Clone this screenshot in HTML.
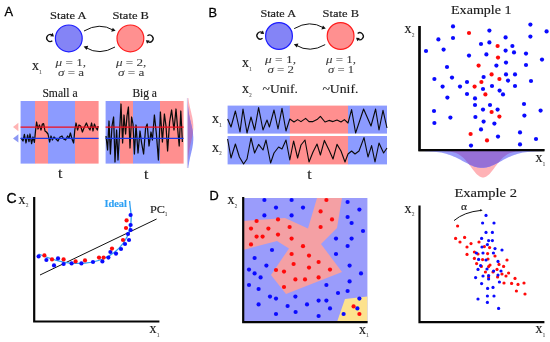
<!DOCTYPE html>
<html><head><meta charset="utf-8"><title>Figure</title>
<style>html,body{margin:0;padding:0;background:#fff}svg{display:block}</style></head>
<body><svg width="550" height="342" viewBox="0 0 550 342">
<rect width="550" height="342" fill="#fff"/>
<text x="4.4" y="16.4" font-size="12.8" font-family="Liberation Sans, sans-serif" fill="#000" stroke="#000" stroke-width="0.3" >A</text>
<text x="208.6" y="16.8" font-size="12.8" font-family="Liberation Sans, sans-serif" fill="#000" stroke="#000" stroke-width="0.3" >B</text>
<text x="6.6" y="203" font-size="14" font-family="Liberation Sans, sans-serif" fill="#000" stroke="#000" stroke-width="0.3" >C</text>
<text x="209.4" y="200" font-size="12.8" font-family="Liberation Sans, sans-serif" fill="#000" stroke="#000" stroke-width="0.3" >D</text>
<circle cx="68.8" cy="38.4" r="13.4" fill="#8484f6" stroke="#1c1cff" stroke-width="1.2"/>
<circle cx="130.4" cy="38.4" r="13.4" fill="#ff9090" stroke="#ff1c1c" stroke-width="1.2"/>
<text x="50" y="19.4" font-size="10" font-family="Liberation Serif, serif" fill="#1a1a1a" stroke="#1a1a1a" stroke-width="0.15" textLength="36.4" lengthAdjust="spacingAndGlyphs" >State A</text>
<text x="112.4" y="19.4" font-size="10" font-family="Liberation Serif, serif" fill="#1a1a1a" stroke="#1a1a1a" stroke-width="0.15" textLength="36.6" lengthAdjust="spacingAndGlyphs" >State B</text>
<path d="M84.0,31.0 Q99.6,21.9 113.4,30.2" fill="none" stroke="#111" stroke-width="1"/>
<polygon points="115.60000000000001,30.799999999999997 111.2,31.799999999999997 112.80000000000001,27.799999999999997" fill="#111"/>
<path d="M115.0,47.0 Q99.6,55.9 85.8,47.599999999999994" fill="none" stroke="#111" stroke-width="1"/>
<polygon points="83.6,46.599999999999994 88.2,45.8 86.6,50.0" fill="#111"/>
<path d="M52.35,35.24 A3.5,3.5 0 1 0 52.35,40.76" fill="none" stroke="#111" stroke-width="1.3"/>
<polygon points="53.93,36.47 50.12,36.16 52.70,32.85" fill="#111"/>
<path d="M147.45,41.36 A3.5,3.5 0 1 0 147.45,35.84" fill="none" stroke="#111" stroke-width="1.3"/>
<polygon points="145.87,40.13 149.68,40.44 147.10,43.75" fill="#111"/>
<circle cx="279" cy="36" r="13.4" fill="#8484f6" stroke="#1c1cff" stroke-width="1.2"/>
<circle cx="340.6" cy="36" r="13.4" fill="#ff9090" stroke="#ff1c1c" stroke-width="1.2"/>
<text x="260.4" y="17" font-size="10" font-family="Liberation Serif, serif" fill="#1a1a1a" stroke="#1a1a1a" stroke-width="0.15" textLength="35.6" lengthAdjust="spacingAndGlyphs" >State A</text>
<text x="322.6" y="17" font-size="10" font-family="Liberation Serif, serif" fill="#1a1a1a" stroke="#1a1a1a" stroke-width="0.15" textLength="36.4" lengthAdjust="spacingAndGlyphs" >State B</text>
<path d="M294.2,28.6 Q309.8,19.5 323.6,27.8" fill="none" stroke="#111" stroke-width="1"/>
<polygon points="325.8,28.4 321.40000000000003,29.4 323.0,25.4" fill="#111"/>
<path d="M325.20000000000005,44.6 Q309.8,53.5 296,45.2" fill="none" stroke="#111" stroke-width="1"/>
<polygon points="293.8,44.2 298.4,43.4 296.8,47.6" fill="#111"/>
<path d="M262.55,32.84 A3.5,3.5 0 1 0 262.55,38.36" fill="none" stroke="#111" stroke-width="1.3"/>
<polygon points="264.13,34.07 260.32,33.76 262.90,30.45" fill="#111"/>
<path d="M357.65,38.96 A3.5,3.5 0 1 0 357.65,33.44" fill="none" stroke="#111" stroke-width="1.3"/>
<polygon points="356.07,37.73 359.88,38.04 357.30,41.35" fill="#111"/>
<text x="55.6" y="65.6" font-size="10.5" font-family="Liberation Serif, serif" fill="#3a3a3a" stroke="#3a3a3a" stroke-width="0.08" textLength="30.4" lengthAdjust="spacingAndGlyphs" ><tspan font-style="italic">μ</tspan> = 1,</text>
<text x="58" y="75.6" font-size="10.5" font-family="Liberation Serif, serif" fill="#3a3a3a" stroke="#3a3a3a" stroke-width="0.08" textLength="26" lengthAdjust="spacingAndGlyphs" ><tspan font-style="italic">σ</tspan> = a</text>
<text x="116" y="65.6" font-size="10.5" font-family="Liberation Serif, serif" fill="#3a3a3a" stroke="#3a3a3a" stroke-width="0.08" textLength="30.4" lengthAdjust="spacingAndGlyphs" ><tspan font-style="italic">μ</tspan> = 2,</text>
<text x="118" y="75.6" font-size="10.5" font-family="Liberation Serif, serif" fill="#3a3a3a" stroke="#3a3a3a" stroke-width="0.08" textLength="26.4" lengthAdjust="spacingAndGlyphs" ><tspan font-style="italic">σ</tspan> = a</text>
<text x="265" y="63" font-size="10.5" font-family="Liberation Serif, serif" fill="#3a3a3a" stroke="#3a3a3a" stroke-width="0.08" textLength="31" lengthAdjust="spacingAndGlyphs" ><tspan font-style="italic">μ</tspan> = 1,</text>
<text x="267.4" y="73" font-size="10.5" font-family="Liberation Serif, serif" fill="#3a3a3a" stroke="#3a3a3a" stroke-width="0.08" textLength="26.6" lengthAdjust="spacingAndGlyphs" ><tspan font-style="italic">σ</tspan> = 2</text>
<text x="326" y="63" font-size="10.5" font-family="Liberation Serif, serif" fill="#3a3a3a" stroke="#3a3a3a" stroke-width="0.08" textLength="30" lengthAdjust="spacingAndGlyphs" ><tspan font-style="italic">μ</tspan> = 1,</text>
<text x="328" y="73" font-size="10.5" font-family="Liberation Serif, serif" fill="#3a3a3a" stroke="#3a3a3a" stroke-width="0.08" textLength="26" lengthAdjust="spacingAndGlyphs" ><tspan font-style="italic">σ</tspan> = 1</text>
<text x="32" y="70" font-size="14.280000000000001" font-family="Liberation Serif, serif" fill="#1a1a1a" stroke="#1a1a1a" stroke-width="0.15" textLength="7" lengthAdjust="spacingAndGlyphs" >x</text>
<text x="39.3" y="73.6" font-size="5.5" font-family="Liberation Serif, serif" fill="#555" stroke="#555" stroke-width="0.15" textLength="2.4" lengthAdjust="spacingAndGlyphs" >1</text>
<text x="242" y="67" font-size="14.280000000000001" font-family="Liberation Serif, serif" fill="#1a1a1a" stroke="#1a1a1a" stroke-width="0.15" textLength="7" lengthAdjust="spacingAndGlyphs" >x</text>
<text x="249.3" y="70.6" font-size="5.5" font-family="Liberation Serif, serif" fill="#555" stroke="#555" stroke-width="0.15" textLength="2.4" lengthAdjust="spacingAndGlyphs" >1</text>
<text x="242" y="93" font-size="14.280000000000001" font-family="Liberation Serif, serif" fill="#1a1a1a" stroke="#1a1a1a" stroke-width="0.15" textLength="7" lengthAdjust="spacingAndGlyphs" >x</text>
<text x="249.3" y="96.6" font-size="5.5" font-family="Liberation Serif, serif" fill="#555" stroke="#555" stroke-width="0.15" textLength="2.4" lengthAdjust="spacingAndGlyphs" >2</text>
<text x="262.6" y="93" font-size="13.5" font-family="Liberation Serif, serif" fill="#1a1a1a" stroke="#1a1a1a" stroke-width="0.15" textLength="35.4" lengthAdjust="spacingAndGlyphs" >~Unif.</text>
<text x="322.4" y="93" font-size="13.5" font-family="Liberation Serif, serif" fill="#1a1a1a" stroke="#1a1a1a" stroke-width="0.15" textLength="36" lengthAdjust="spacingAndGlyphs" >~Unif.</text>
<text x="42.4" y="97" font-size="11.5" font-family="Liberation Serif, serif" fill="#1a1a1a" stroke="#1a1a1a" stroke-width="0.15" textLength="35.2" lengthAdjust="spacingAndGlyphs" >Small a</text>
<text x="132.4" y="97" font-size="11.5" font-family="Liberation Serif, serif" fill="#1a1a1a" stroke="#1a1a1a" stroke-width="0.15" textLength="24.6" lengthAdjust="spacingAndGlyphs" >Big a</text>
<rect x="20.6" y="101" width="14.6" height="62.6" fill="#8c9bff"/>
<rect x="35" y="101" width="13.2" height="62.6" fill="#ff8f8f"/>
<rect x="48" y="101" width="27.2" height="62.6" fill="#8c9bff"/>
<rect x="75" y="101" width="23.6" height="62.6" fill="#ff8f8f"/>
<rect x="105.6" y="101" width="14.6" height="62.6" fill="#8c9bff"/>
<rect x="120" y="101" width="13.2" height="62.6" fill="#ff8f8f"/>
<rect x="133" y="101" width="27.2" height="62.6" fill="#8c9bff"/>
<rect x="160" y="101" width="23.6" height="62.6" fill="#ff8f8f"/>
<polygon points="13,127 18.4,122.8 18.4,131.2" fill="#ffb4b4"/>
<polygon points="13,138.4 18.4,134.2 18.4,142.6" fill="#8c98f4"/>
<polyline points="21.0,138.0 23.0,141.0 24.4,134.4 26.0,143.0 27.6,135.0 29.0,141.6 30.0,134.0 31.6,143.6 33.0,137.0 34.4,142.4 35.6,130.0 36.6,122.0 38.0,129.0 39.4,125.0 41.0,130.0 42.4,124.0 43.6,123.6 45.0,131.0 46.4,132.0 48.0,134.0 49.6,142.0 51.0,136.0 52.4,140.0 54.0,137.0 56.0,139.0 58.0,141.0 60.0,137.0 62.0,136.0 63.6,139.0 65.6,140.0 67.6,136.0 69.0,138.0 70.4,133.0 72.0,139.0 73.6,143.0 74.8,130.0 76.0,123.0 77.6,130.0 79.0,125.0 80.6,126.0 82.4,132.0 84.0,128.0 86.4,123.0 88.0,127.0 90.0,130.0 91.6,123.0 93.0,131.0 94.4,124.0 96.0,128.0 97.4,130.0 98.0,126.0" fill="none" stroke="#0a0a0a" stroke-width="1.25" stroke-linejoin="round"/>
<polyline points="106.0,136.0 107.6,150.0 109.0,121.0 110.4,154.0 112.0,126.0 113.6,117.0 115.0,162.0 116.6,130.0 118.0,160.0 119.4,136.0 121.0,104.0 122.6,143.0 124.0,115.0 125.6,134.0 127.0,116.0 128.4,107.0 130.0,148.0 131.6,117.0 133.0,124.0 134.4,154.0 136.0,125.0 138.0,153.0 140.0,131.0 141.6,143.0 143.6,154.0 145.6,128.0 147.2,124.0 149.0,146.0 151.0,132.0 152.4,140.0 154.4,115.0 156.4,134.0 158.4,160.0 160.4,112.0 162.4,142.0 164.4,114.0 166.0,126.0 167.6,151.0 169.6,122.0 171.6,110.0 174.0,130.0 176.0,109.0 177.6,128.0 179.2,146.0 180.8,111.0 182.4,142.0" fill="none" stroke="#0a0a0a" stroke-width="1.25" stroke-linejoin="round"/>
<line x1="20.6" x2="98.6" y1="127.1" y2="127.1" stroke="#f00c1c" stroke-width="1.3"/>
<line x1="20.6" x2="98.6" y1="138.3" y2="138.3" stroke="#1838ea" stroke-width="1.3"/>
<line x1="105.6" x2="183.6" y1="127.1" y2="127.1" stroke="#f00c1c" stroke-width="1.3"/>
<line x1="105.6" x2="183.6" y1="138.3" y2="138.3" stroke="#1838ea" stroke-width="1.3"/>
<text x="58" y="178.4" font-size="14" font-family="Liberation Serif, serif" fill="#1a1a1a" stroke="#1a1a1a" stroke-width="0.15" textLength="4.4" lengthAdjust="spacingAndGlyphs" >t</text>
<text x="144" y="178.6" font-size="14" font-family="Liberation Serif, serif" fill="#1a1a1a" stroke="#1a1a1a" stroke-width="0.15" textLength="4.4" lengthAdjust="spacingAndGlyphs" >t</text>
<polygon points="187.3,98.0 188.3,98.0 188.5,99.0 188.6,100.0 188.8,101.0 188.9,102.0 189.1,103.0 189.3,104.0 189.5,105.0 189.7,106.0 189.9,107.0 190.1,108.0 190.4,109.0 190.6,110.0 190.8,111.0 191.1,112.0 191.3,113.0 191.5,114.0 191.7,115.0 192.0,116.0 192.2,117.0 192.4,118.0 192.6,119.0 192.7,120.0 192.9,121.0 193.0,122.0 193.1,123.0 193.2,124.0 193.3,125.0 193.3,126.0 193.3,127.0 193.3,128.0 193.3,129.0 193.2,130.0 193.1,131.0 193.0,132.0 192.9,133.0 192.7,134.0 192.6,135.0 192.4,136.0 192.2,137.0 192.0,138.0 191.7,139.0 191.5,140.0 191.3,141.0 191.1,142.0 190.8,143.0 190.6,144.0 190.4,145.0 190.1,146.0 189.9,147.0 189.7,148.0 189.5,149.0 189.3,150.0 189.1,151.0 188.9,152.0 188.8,153.0 188.6,154.0 188.5,155.0 188.3,156.0 188.2,157.0 188.1,158.0 188.0,159.0 187.9,160.0 187.8,161.0 187.8,162.0 187.7,163.0 187.6,164.0 187.6,165.0 187.6,166.0 187.5,167.0 187.5,168.0 187.3,168.0" fill="#ffb0b8"/>
<polygon points="187.3,98.0 187.5,98.0 187.5,99.0 187.6,100.0 187.6,101.0 187.7,102.0 187.7,103.0 187.8,104.0 187.9,105.0 188.0,106.0 188.1,107.0 188.2,108.0 188.3,109.0 188.4,110.0 188.5,111.0 188.7,112.0 188.9,113.0 189.0,114.0 189.2,115.0 189.4,116.0 189.6,117.0 189.8,118.0 190.0,119.0 190.2,120.0 190.5,121.0 190.7,122.0 190.9,123.0 191.2,124.0 191.4,125.0 191.6,126.0 191.9,127.0 192.1,128.0 192.3,129.0 192.5,130.0 192.6,131.0 192.8,132.0 192.9,133.0 193.1,134.0 193.1,135.0 193.2,136.0 193.3,137.0 193.3,138.0 193.3,139.0 193.3,140.0 193.2,141.0 193.1,142.0 193.1,143.0 192.9,144.0 192.8,145.0 192.6,146.0 192.5,147.0 192.3,148.0 192.1,149.0 191.9,150.0 191.6,151.0 191.4,152.0 191.2,153.0 190.9,154.0 190.7,155.0 190.5,156.0 190.2,157.0 190.0,158.0 189.8,159.0 189.6,160.0 189.4,161.0 189.2,162.0 189.0,163.0 188.9,164.0 188.7,165.0 188.5,166.0 188.4,167.0 188.3,168.0 187.3,168.0" fill="#8c96fa"/>
<polygon points="187.3,98.0 187.5,98.0 187.5,99.0 187.6,100.0 187.6,101.0 187.7,102.0 187.7,103.0 187.8,104.0 187.9,105.0 188.0,106.0 188.1,107.0 188.2,108.0 188.3,109.0 188.4,110.0 188.5,111.0 188.7,112.0 188.9,113.0 189.0,114.0 189.2,115.0 189.4,116.0 189.6,117.0 189.8,118.0 190.0,119.0 190.2,120.0 190.5,121.0 190.7,122.0 190.9,123.0 191.2,124.0 191.4,125.0 191.6,126.0 191.9,127.0 192.1,128.0 192.3,129.0 192.5,130.0 192.6,131.0 192.8,132.0 192.9,133.0 192.7,134.0 192.6,135.0 192.4,136.0 192.2,137.0 192.0,138.0 191.7,139.0 191.5,140.0 191.3,141.0 191.1,142.0 190.8,143.0 190.6,144.0 190.4,145.0 190.1,146.0 189.9,147.0 189.7,148.0 189.5,149.0 189.3,150.0 189.1,151.0 188.9,152.0 188.8,153.0 188.6,154.0 188.5,155.0 188.3,156.0 188.2,157.0 188.1,158.0 188.0,159.0 187.9,160.0 187.8,161.0 187.8,162.0 187.7,163.0 187.6,164.0 187.6,165.0 187.6,166.0 187.5,167.0 187.5,168.0 187.3,168.0" fill="#a673c9"/>
<line x1="187.2" x2="187.2" y1="98" y2="168" stroke="#ece8f2" stroke-width="0.8"/>
<rect x="227.6" y="105.6" width="62.4" height="28.0" fill="#8c9bff"/>
<rect x="289.8" y="105.6" width="58.4" height="28.0" fill="#ff8f8f"/>
<rect x="348" y="105.6" width="39.0" height="28.0" fill="#8c9bff"/>
<rect x="227.6" y="136" width="62.4" height="28.4" fill="#8c9bff"/>
<rect x="289.8" y="136" width="58.4" height="28.4" fill="#ff8f8f"/>
<rect x="348" y="136" width="39.0" height="28.4" fill="#8c9bff"/>
<text x="212" y="123" font-size="14.280000000000001" font-family="Liberation Serif, serif" fill="#1a1a1a" stroke="#1a1a1a" stroke-width="0.15" textLength="7" lengthAdjust="spacingAndGlyphs" >x</text>
<text x="219.3" y="126.6" font-size="5.5" font-family="Liberation Serif, serif" fill="#555" stroke="#555" stroke-width="0.15" textLength="2.4" lengthAdjust="spacingAndGlyphs" >1</text>
<text x="212" y="151.6" font-size="14.280000000000001" font-family="Liberation Serif, serif" fill="#1a1a1a" stroke="#1a1a1a" stroke-width="0.15" textLength="7" lengthAdjust="spacingAndGlyphs" >x</text>
<text x="219.3" y="155.2" font-size="5.5" font-family="Liberation Serif, serif" fill="#555" stroke="#555" stroke-width="0.15" textLength="2.4" lengthAdjust="spacingAndGlyphs" >2</text>
<polyline points="227.6,119.0 231.0,127.0 235.4,111.0 240.0,132.0 243.0,109.0 247.0,133.0 251.0,117.0 254.6,130.0 258.6,107.6 263.0,130.0 267.0,120.0 269.4,127.0 274.0,110.0 278.0,129.0 282.0,108.4 286.0,131.0 289.8,119.0 294.0,122.0 297.6,119.6 301.0,121.6 305.6,118.4 309.0,121.6 313.0,121.6 317.0,119.6 320.4,116.4 325.0,122.0 329.0,120.4 333.0,121.6 337.0,120.0 341.0,122.0 344.4,119.6 348.0,123.0 351.6,109.6 355.6,133.0 363.6,109.0 371.0,126.0 375.6,109.0 379.0,130.0 383.0,110.4 387.0,128.0" fill="none" stroke="#0a0a0a" stroke-width="1.1" stroke-linejoin="round"/>
<polyline points="227.6,139.0 231.0,158.0 235.4,144.0 239.4,157.0 243.6,164.0 247.0,159.0 251.0,138.0 254.6,153.0 258.6,144.4 263.0,150.0 266.0,140.0 270.6,163.0 274.0,153.0 278.6,147.0 282.0,149.0 286.0,140.0 289.8,160.0 293.6,141.0 297.6,158.0 301.0,145.0 305.0,140.0 309.0,162.0 313.0,152.0 317.0,144.0 320.4,155.0 324.4,140.4 329.0,150.0 333.0,159.0 337.0,144.4 341.0,151.0 345.0,162.0 348.0,154.0 351.6,151.0 355.0,154.0 359.0,151.0 364.0,137.6 368.0,157.0 371.6,145.6 375.0,162.0 379.0,143.0 383.6,153.0 387.0,148.0" fill="none" stroke="#0a0a0a" stroke-width="1.1" stroke-linejoin="round"/>
<text x="307.2" y="178.8" font-size="14" font-family="Liberation Serif, serif" fill="#1a1a1a" stroke="#1a1a1a" stroke-width="0.15" textLength="4.4" lengthAdjust="spacingAndGlyphs" >t</text>
<text x="451" y="13.6" font-size="12.5" font-family="Liberation Serif, serif" fill="#1a1a1a" stroke="#1a1a1a" stroke-width="0.15" textLength="60.6" lengthAdjust="spacingAndGlyphs" >Example 1</text>
<text x="404.6" y="33" font-size="14.280000000000001" font-family="Liberation Serif, serif" fill="#1a1a1a" stroke="#1a1a1a" stroke-width="0.15" textLength="7" lengthAdjust="spacingAndGlyphs" >x</text>
<text x="411.90000000000003" y="36.6" font-size="5.5" font-family="Liberation Serif, serif" fill="#555" stroke="#555" stroke-width="0.15" textLength="2.4" lengthAdjust="spacingAndGlyphs" >2</text>
<path d="M419.5,26 V150.2 H544.4" fill="none" stroke="#050505" stroke-width="2.2"/>
<circle cx="453" cy="26.4" r="2.1" fill="#0a0aff"/>
<circle cx="489.4" cy="30.6" r="2.1" fill="#0a0aff"/>
<circle cx="438.4" cy="39.4" r="2.1" fill="#0a0aff"/>
<circle cx="453" cy="38" r="2.1" fill="#0a0aff"/>
<circle cx="505.6" cy="37.4" r="2.1" fill="#0a0aff"/>
<circle cx="481" cy="44" r="2.1" fill="#0a0aff"/>
<circle cx="489.4" cy="42.4" r="2.1" fill="#0a0aff"/>
<circle cx="426" cy="51" r="2.1" fill="#0a0aff"/>
<circle cx="443.6" cy="49.6" r="2.1" fill="#0a0aff"/>
<circle cx="505.6" cy="50.6" r="2.1" fill="#0a0aff"/>
<circle cx="469" cy="55.6" r="2.1" fill="#0a0aff"/>
<circle cx="486.4" cy="54.4" r="2.1" fill="#0a0aff"/>
<circle cx="447" cy="67" r="2.1" fill="#0a0aff"/>
<circle cx="496.4" cy="65.6" r="2.1" fill="#0a0aff"/>
<circle cx="506" cy="62.6" r="2.1" fill="#0a0aff"/>
<circle cx="530.4" cy="24.6" r="2.1" fill="#0a0aff"/>
<circle cx="546.6" cy="31.4" r="2.1" fill="#0a0aff"/>
<circle cx="530.4" cy="36.6" r="2.1" fill="#0a0aff"/>
<circle cx="512.4" cy="46" r="2.1" fill="#0a0aff"/>
<circle cx="514" cy="52.4" r="2.1" fill="#0a0aff"/>
<circle cx="526" cy="53.6" r="2.1" fill="#0a0aff"/>
<circle cx="542" cy="59.6" r="2.1" fill="#0a0aff"/>
<circle cx="526" cy="65" r="2.1" fill="#0a0aff"/>
<circle cx="506" cy="74.4" r="2.1" fill="#0a0aff"/>
<circle cx="434.4" cy="79" r="2.1" fill="#0a0aff"/>
<circle cx="452" cy="77.6" r="2.1" fill="#0a0aff"/>
<circle cx="483.6" cy="77" r="2.1" fill="#0a0aff"/>
<circle cx="508" cy="80.6" r="2.1" fill="#0a0aff"/>
<circle cx="467" cy="82" r="2.1" fill="#0a0aff"/>
<circle cx="442.6" cy="86.6" r="2.1" fill="#0a0aff"/>
<circle cx="460" cy="86.6" r="2.1" fill="#0a0aff"/>
<circle cx="492" cy="86" r="2.1" fill="#0a0aff"/>
<circle cx="483" cy="89" r="2.1" fill="#0a0aff"/>
<circle cx="499.6" cy="90.6" r="2.1" fill="#0a0aff"/>
<circle cx="467" cy="94" r="2.1" fill="#0a0aff"/>
<circle cx="503" cy="94.4" r="2.1" fill="#0a0aff"/>
<circle cx="447.4" cy="97.6" r="2.1" fill="#0a0aff"/>
<circle cx="475" cy="98.4" r="2.1" fill="#0a0aff"/>
<circle cx="475" cy="105" r="2.1" fill="#0a0aff"/>
<circle cx="490" cy="105" r="2.1" fill="#0a0aff"/>
<circle cx="434" cy="111" r="2.1" fill="#0a0aff"/>
<circle cx="483" cy="109.6" r="2.1" fill="#0a0aff"/>
<circle cx="497.6" cy="109.6" r="2.1" fill="#0a0aff"/>
<circle cx="450.4" cy="117.6" r="2.1" fill="#0a0aff"/>
<circle cx="475.4" cy="117" r="2.1" fill="#0a0aff"/>
<circle cx="434.4" cy="123" r="2.1" fill="#0a0aff"/>
<circle cx="483.6" cy="121.6" r="2.1" fill="#0a0aff"/>
<circle cx="494.4" cy="123.6" r="2.1" fill="#0a0aff"/>
<circle cx="515" cy="74.4" r="2.1" fill="#0a0aff"/>
<circle cx="531" cy="81" r="2.1" fill="#0a0aff"/>
<circle cx="515" cy="86" r="2.1" fill="#0a0aff"/>
<circle cx="524" cy="104" r="2.1" fill="#0a0aff"/>
<circle cx="540.6" cy="110.6" r="2.1" fill="#0a0aff"/>
<circle cx="524.4" cy="115.6" r="2.1" fill="#0a0aff"/>
<circle cx="481" cy="129.4" r="2.1" fill="#0a0aff"/>
<circle cx="498" cy="136.6" r="2.1" fill="#0a0aff"/>
<circle cx="471" cy="145.6" r="2.1" fill="#0a0aff"/>
<circle cx="520" cy="132.4" r="2.1" fill="#0a0aff"/>
<circle cx="536" cy="139" r="2.1" fill="#0a0aff"/>
<circle cx="520" cy="144.4" r="2.1" fill="#0a0aff"/>
<circle cx="469" cy="33" r="2.1" fill="#ff0a0a"/>
<circle cx="497.6" cy="46" r="2.1" fill="#ff0a0a"/>
<circle cx="498" cy="57.6" r="2.1" fill="#ff0a0a"/>
<circle cx="478.6" cy="65.6" r="2.1" fill="#ff0a0a"/>
<circle cx="491.6" cy="74.4" r="2.1" fill="#ff0a0a"/>
<circle cx="499.4" cy="79" r="2.1" fill="#ff0a0a"/>
<circle cx="481.4" cy="82" r="2.1" fill="#ff0a0a"/>
<circle cx="474.6" cy="86.6" r="2.1" fill="#ff0a0a"/>
<circle cx="485.4" cy="94.4" r="2.1" fill="#ff0a0a"/>
<circle cx="491.6" cy="112" r="2.1" fill="#ff0a0a"/>
<circle cx="499.4" cy="116.6" r="2.1" fill="#ff0a0a"/>
<circle cx="470.6" cy="134" r="2.1" fill="#ff0a0a"/>
<circle cx="487" cy="140.4" r="2.1" fill="#ff0a0a"/>
<polygon points="425.0,151.0 425.0,151.0 426.0,151.0 427.0,151.0 428.0,151.0 429.0,151.0 430.0,151.0 431.0,151.0 432.0,151.0 433.0,151.0 434.0,151.0 435.0,151.0 436.0,151.0 437.0,151.0 438.0,151.0 439.0,151.0 440.0,151.0 441.0,151.1 442.0,151.1 443.0,151.1 444.0,151.1 445.0,151.2 446.0,151.2 447.0,151.3 448.0,151.4 449.0,151.5 450.0,151.6 451.0,151.8 452.0,151.9 453.0,152.2 454.0,152.4 455.0,152.7 456.0,153.1 457.0,153.5 458.0,154.0 459.0,154.6 460.0,155.2 461.0,155.9 462.0,156.7 463.0,157.6 464.0,158.6 465.0,159.6 466.0,160.7 467.0,161.9 468.0,163.1 469.0,164.4 470.0,165.7 471.0,167.1 472.0,168.4 473.0,169.7 474.0,171.0 475.0,172.2 476.0,173.4 477.0,174.4 478.0,175.3 479.0,176.1 480.0,176.7 481.0,177.1 482.0,177.4 483.0,177.5 484.0,177.4 485.0,177.1 486.0,176.7 487.0,176.1 488.0,175.3 489.0,174.4 490.0,173.4 491.0,172.2 492.0,171.0 493.0,169.7 494.0,168.4 495.0,167.1 496.0,165.7 497.0,164.4 498.0,163.1 499.0,161.9 500.0,160.7 501.0,159.6 502.0,158.6 503.0,157.6 504.0,156.7 505.0,155.9 506.0,155.2 507.0,154.6 508.0,154.0 509.0,153.5 510.0,153.1 511.0,152.7 512.0,152.4 513.0,152.2 514.0,151.9 515.0,151.8 516.0,151.6 517.0,151.5 518.0,151.4 519.0,151.3 520.0,151.2 521.0,151.2 522.0,151.1 523.0,151.1 524.0,151.1 525.0,151.1 526.0,151.0 527.0,151.0 528.0,151.0 529.0,151.0 530.0,151.0 531.0,151.0 532.0,151.0 533.0,151.0 534.0,151.0 535.0,151.0 536.0,151.0 537.0,151.0 538.0,151.0 539.0,151.0 540.0,151.0 541.0,151.0 542.0,151.0 542.0,151.0" fill="#ffb2b6"/>
<polygon points="425.0,151.0 425.0,151.2 426.0,151.2 427.0,151.3 428.0,151.3 429.0,151.3 430.0,151.4 431.0,151.5 432.0,151.5 433.0,151.6 434.0,151.7 435.0,151.8 436.0,151.9 437.0,152.0 438.0,152.2 439.0,152.3 440.0,152.5 441.0,152.6 442.0,152.8 443.0,153.0 444.0,153.3 445.0,153.5 446.0,153.8 447.0,154.1 448.0,154.4 449.0,154.7 450.0,155.1 451.0,155.4 452.0,155.8 453.0,156.2 454.0,156.7 455.0,157.1 456.0,157.6 457.0,158.1 458.0,158.6 459.0,159.1 460.0,159.6 461.0,160.1 462.0,160.7 463.0,161.2 464.0,161.7 465.0,162.3 466.0,162.8 467.0,163.3 468.0,163.8 469.0,164.3 470.0,164.8 471.0,165.2 472.0,165.6 473.0,166.0 474.0,166.4 475.0,166.7 476.0,167.0 477.0,167.2 478.0,167.4 479.0,167.6 480.0,167.7 481.0,167.8 482.0,167.8 483.0,167.8 484.0,167.7 485.0,167.6 486.0,167.4 487.0,167.2 488.0,167.0 489.0,166.7 490.0,166.4 491.0,166.0 492.0,165.6 493.0,165.2 494.0,164.8 495.0,164.3 496.0,163.8 497.0,163.3 498.0,162.8 499.0,162.3 500.0,161.7 501.0,161.2 502.0,160.7 503.0,160.1 504.0,159.6 505.0,159.1 506.0,158.6 507.0,158.1 508.0,157.6 509.0,157.1 510.0,156.7 511.0,156.2 512.0,155.8 513.0,155.4 514.0,155.1 515.0,154.7 516.0,154.4 517.0,154.1 518.0,153.8 519.0,153.5 520.0,153.3 521.0,153.0 522.0,152.8 523.0,152.6 524.0,152.5 525.0,152.3 526.0,152.2 527.0,152.0 528.0,151.9 529.0,151.8 530.0,151.7 531.0,151.6 532.0,151.5 533.0,151.5 534.0,151.4 535.0,151.3 536.0,151.3 537.0,151.3 538.0,151.2 539.0,151.2 540.0,151.2 541.0,151.1 542.0,151.1 542.0,151.0" fill="#9a9cfa"/>
<polygon points="425.0,151.0 425.0,151.0 426.0,151.0 427.0,151.0 428.0,151.0 429.0,151.0 430.0,151.0 431.0,151.0 432.0,151.0 433.0,151.0 434.0,151.0 435.0,151.0 436.0,151.0 437.0,151.0 438.0,151.0 439.0,151.0 440.0,151.0 441.0,151.1 442.0,151.1 443.0,151.1 444.0,151.1 445.0,151.2 446.0,151.2 447.0,151.3 448.0,151.4 449.0,151.5 450.0,151.6 451.0,151.8 452.0,151.9 453.0,152.2 454.0,152.4 455.0,152.7 456.0,153.1 457.0,153.5 458.0,154.0 459.0,154.6 460.0,155.2 461.0,155.9 462.0,156.7 463.0,157.6 464.0,158.6 465.0,159.6 466.0,160.7 467.0,161.9 468.0,163.1 469.0,164.3 470.0,164.8 471.0,165.2 472.0,165.6 473.0,166.0 474.0,166.4 475.0,166.7 476.0,167.0 477.0,167.2 478.0,167.4 479.0,167.6 480.0,167.7 481.0,167.8 482.0,167.8 483.0,167.8 484.0,167.7 485.0,167.6 486.0,167.4 487.0,167.2 488.0,167.0 489.0,166.7 490.0,166.4 491.0,166.0 492.0,165.6 493.0,165.2 494.0,164.8 495.0,164.3 496.0,163.8 497.0,163.3 498.0,162.8 499.0,161.9 500.0,160.7 501.0,159.6 502.0,158.6 503.0,157.6 504.0,156.7 505.0,155.9 506.0,155.2 507.0,154.6 508.0,154.0 509.0,153.5 510.0,153.1 511.0,152.7 512.0,152.4 513.0,152.2 514.0,151.9 515.0,151.8 516.0,151.6 517.0,151.5 518.0,151.4 519.0,151.3 520.0,151.2 521.0,151.2 522.0,151.1 523.0,151.1 524.0,151.1 525.0,151.1 526.0,151.0 527.0,151.0 528.0,151.0 529.0,151.0 530.0,151.0 531.0,151.0 532.0,151.0 533.0,151.0 534.0,151.0 535.0,151.0 536.0,151.0 537.0,151.0 538.0,151.0 539.0,151.0 540.0,151.0 541.0,151.0 542.0,151.0 542.0,151.0" fill="#9670d6"/>
<path d="M419.5,26 V150.2 H544.4" fill="none" stroke="#050505" stroke-width="2.2"/>
<text x="535.4" y="162" font-size="14.280000000000001" font-family="Liberation Serif, serif" fill="#1a1a1a" stroke="#1a1a1a" stroke-width="0.15" textLength="7" lengthAdjust="spacingAndGlyphs" >x</text>
<text x="542.6999999999999" y="165.6" font-size="5.5" font-family="Liberation Serif, serif" fill="#555" stroke="#555" stroke-width="0.15" textLength="2.4" lengthAdjust="spacingAndGlyphs" >1</text>
<text x="18.6" y="203.6" font-size="14.280000000000001" font-family="Liberation Serif, serif" fill="#1a1a1a" stroke="#1a1a1a" stroke-width="0.15" textLength="7" lengthAdjust="spacingAndGlyphs" >x</text>
<text x="25.900000000000002" y="207.2" font-size="5.5" font-family="Liberation Serif, serif" fill="#555" stroke="#555" stroke-width="0.15" textLength="2.4" lengthAdjust="spacingAndGlyphs" >2</text>
<path d="M34.2,197 V321.5 H159.4" fill="none" stroke="#050505" stroke-width="2.2"/>
<line x1="40" y1="275" x2="156.6" y2="219" stroke="#111" stroke-width="1"/>
<path d="M38.6,254 C50,259 60,262.5 72,263.3 C84,264 96,262 104,258.5 C114,254 122,247 127,237 C132,226 131.5,216 130.6,210 C130,206 129.8,203 129.6,201" fill="none" stroke="#2ea0f4" stroke-width="1.3"/>
<text x="104.4" y="207" font-size="10.8" font-family="Liberation Serif, serif" fill="#2ea0f4" stroke="#2ea0f4" stroke-width="0.15" textLength="22.6" lengthAdjust="spacingAndGlyphs" font-weight="bold">Ideal</text>
<text x="150" y="213" font-size="11" font-family="Liberation Serif, serif" fill="#1a1a1a" stroke="#1a1a1a" stroke-width="0.15" textLength="15" lengthAdjust="spacingAndGlyphs" >PC</text>
<text x="165" y="216.4" font-size="5.5" font-family="Liberation Serif, serif" fill="#444" stroke="#444" stroke-width="0.15" textLength="2.2" lengthAdjust="spacingAndGlyphs" >1</text>
<circle cx="38.6" cy="256.4" r="2.1" fill="#0a0aff"/>
<circle cx="46.4" cy="260" r="2.1" fill="#0a0aff"/>
<circle cx="54" cy="265.4" r="2.1" fill="#0a0aff"/>
<circle cx="58" cy="258.4" r="2.1" fill="#0a0aff"/>
<circle cx="63.6" cy="264" r="2.1" fill="#0a0aff"/>
<circle cx="71.6" cy="263.4" r="2.1" fill="#0a0aff"/>
<circle cx="81.4" cy="263.4" r="2.1" fill="#0a0aff"/>
<circle cx="93" cy="262" r="2.1" fill="#0a0aff"/>
<circle cx="102.4" cy="261.4" r="2.1" fill="#0a0aff"/>
<circle cx="108.4" cy="257.6" r="2.1" fill="#0a0aff"/>
<circle cx="110.4" cy="252" r="2.1" fill="#0a0aff"/>
<circle cx="116" cy="253.6" r="2.1" fill="#0a0aff"/>
<circle cx="121" cy="249" r="2.1" fill="#0a0aff"/>
<circle cx="125" cy="244" r="2.1" fill="#0a0aff"/>
<circle cx="129" cy="240" r="2.1" fill="#0a0aff"/>
<circle cx="130.6" cy="215" r="2.1" fill="#0a0aff"/>
<circle cx="130.6" cy="225" r="2.1" fill="#0a0aff"/>
<circle cx="130.6" cy="230" r="2.1" fill="#0a0aff"/>
<circle cx="128" cy="234" r="2.1" fill="#0a0aff"/>
<circle cx="44.4" cy="255.4" r="2.1" fill="#ff0a0a"/>
<circle cx="52" cy="259.4" r="2.1" fill="#ff0a0a"/>
<circle cx="63.6" cy="259.4" r="2.1" fill="#ff0a0a"/>
<circle cx="75.6" cy="261.4" r="2.1" fill="#ff0a0a"/>
<circle cx="85" cy="260.4" r="2.1" fill="#ff0a0a"/>
<circle cx="99" cy="257.6" r="2.1" fill="#ff0a0a"/>
<circle cx="103.6" cy="257.6" r="2.1" fill="#ff0a0a"/>
<circle cx="112" cy="248.6" r="2.1" fill="#ff0a0a"/>
<circle cx="123" cy="240" r="2.1" fill="#ff0a0a"/>
<circle cx="126.6" cy="220.4" r="2.1" fill="#ff0a0a"/>
<circle cx="126" cy="228" r="2.1" fill="#ff0a0a"/>
<text x="149.6" y="333" font-size="14.280000000000001" font-family="Liberation Serif, serif" fill="#1a1a1a" stroke="#1a1a1a" stroke-width="0.15" textLength="7" lengthAdjust="spacingAndGlyphs" >x</text>
<text x="156.9" y="336.6" font-size="5.5" font-family="Liberation Serif, serif" fill="#555" stroke="#555" stroke-width="0.15" textLength="2.4" lengthAdjust="spacingAndGlyphs" >1</text>
<text x="227.4" y="204.4" font-size="14.280000000000001" font-family="Liberation Serif, serif" fill="#1a1a1a" stroke="#1a1a1a" stroke-width="0.15" textLength="7" lengthAdjust="spacingAndGlyphs" >x</text>
<text x="234.70000000000002" y="208.0" font-size="5.5" font-family="Liberation Serif, serif" fill="#555" stroke="#555" stroke-width="0.15" textLength="2.4" lengthAdjust="spacingAndGlyphs" >2</text>
<rect x="243.2" y="198" width="124.2" height="124" fill="#9a9cfb"/>
<polygon points="243.2,221.0 285.0,218.0 308.0,228.6 317.0,198.0 342.0,198.0 337.0,228.0 321.0,244.0 342.0,272.0 286.0,294.0 271.0,275.0 289.0,248.4 277.0,241.0 243.2,250.0" fill="#f4a0a4"/>
<polygon points="345,299 367.4,296.4 367.4,322 337,322" fill="#fde28e"/>
<path d="M243.2,197 V322.2 H367.6" fill="none" stroke="#050505" stroke-width="2.2"/>
<circle cx="264.4" cy="200" r="2.1" fill="#0a0aff"/>
<circle cx="291.6" cy="200" r="2.1" fill="#0a0aff"/>
<circle cx="276" cy="207.6" r="2.1" fill="#0a0aff"/>
<circle cx="303" cy="207.6" r="2.1" fill="#0a0aff"/>
<circle cx="264.4" cy="215.4" r="2.1" fill="#0a0aff"/>
<circle cx="291.6" cy="215.4" r="2.1" fill="#0a0aff"/>
<circle cx="272" cy="250" r="2.1" fill="#0a0aff"/>
<circle cx="347.6" cy="202" r="2.1" fill="#0a0aff"/>
<circle cx="359.4" cy="209.6" r="2.1" fill="#0a0aff"/>
<circle cx="347.6" cy="217" r="2.1" fill="#0a0aff"/>
<circle cx="351.6" cy="223" r="2.1" fill="#0a0aff"/>
<circle cx="363" cy="231" r="2.1" fill="#0a0aff"/>
<circle cx="336" cy="238.6" r="2.1" fill="#0a0aff"/>
<circle cx="351.6" cy="238.6" r="2.1" fill="#0a0aff"/>
<circle cx="347.6" cy="246" r="2.1" fill="#0a0aff"/>
<circle cx="336" cy="254" r="2.1" fill="#0a0aff"/>
<circle cx="254.6" cy="258" r="2.1" fill="#0a0aff"/>
<circle cx="266.4" cy="265.6" r="2.1" fill="#0a0aff"/>
<circle cx="249" cy="269.6" r="2.1" fill="#0a0aff"/>
<circle cx="254.6" cy="273.4" r="2.1" fill="#0a0aff"/>
<circle cx="260.6" cy="277.4" r="2.1" fill="#0a0aff"/>
<circle cx="249" cy="285" r="2.1" fill="#0a0aff"/>
<circle cx="258.6" cy="289" r="2.1" fill="#0a0aff"/>
<circle cx="270" cy="296.6" r="2.1" fill="#0a0aff"/>
<circle cx="276" cy="298.6" r="2.1" fill="#0a0aff"/>
<circle cx="295.4" cy="296.6" r="2.1" fill="#0a0aff"/>
<circle cx="258.6" cy="304.4" r="2.1" fill="#0a0aff"/>
<circle cx="287.6" cy="306" r="2.1" fill="#0a0aff"/>
<circle cx="307" cy="304.4" r="2.1" fill="#0a0aff"/>
<circle cx="349.6" cy="265.6" r="2.1" fill="#0a0aff"/>
<circle cx="361" cy="273.4" r="2.1" fill="#0a0aff"/>
<circle cx="349.6" cy="281.4" r="2.1" fill="#0a0aff"/>
<circle cx="326.4" cy="285" r="2.1" fill="#0a0aff"/>
<circle cx="347.6" cy="291" r="2.1" fill="#0a0aff"/>
<circle cx="338" cy="293" r="2.1" fill="#0a0aff"/>
<circle cx="318.6" cy="300.6" r="2.1" fill="#0a0aff"/>
<circle cx="326.4" cy="300.6" r="2.1" fill="#0a0aff"/>
<circle cx="359.4" cy="298.6" r="2.1" fill="#0a0aff"/>
<circle cx="330" cy="308.4" r="2.1" fill="#0a0aff"/>
<circle cx="357.4" cy="308.4" r="2.1" fill="#0a0aff"/>
<circle cx="343.6" cy="314" r="2.1" fill="#0a0aff"/>
<circle cx="295.6" cy="312" r="2.1" fill="#0a0aff"/>
<circle cx="318.6" cy="316" r="2.1" fill="#0a0aff"/>
<circle cx="276" cy="314" r="2.1" fill="#0a0aff"/>
<circle cx="256.6" cy="221" r="2.1" fill="#ff0a0a"/>
<circle cx="278" cy="219.4" r="2.1" fill="#ff0a0a"/>
<circle cx="251" cy="228.6" r="2.1" fill="#ff0a0a"/>
<circle cx="268.4" cy="228.6" r="2.1" fill="#ff0a0a"/>
<circle cx="289.6" cy="227" r="2.1" fill="#ff0a0a"/>
<circle cx="256.6" cy="236.6" r="2.1" fill="#ff0a0a"/>
<circle cx="262.6" cy="236.6" r="2.1" fill="#ff0a0a"/>
<circle cx="278" cy="234.6" r="2.1" fill="#ff0a0a"/>
<circle cx="291.6" cy="238.6" r="2.1" fill="#ff0a0a"/>
<circle cx="251" cy="244.4" r="2.1" fill="#ff0a0a"/>
<circle cx="303" cy="246.2" r="2.1" fill="#ff0a0a"/>
<circle cx="326.4" cy="200" r="2.1" fill="#ff0a0a"/>
<circle cx="320.6" cy="211.4" r="2.1" fill="#ff0a0a"/>
<circle cx="332" cy="219.4" r="2.1" fill="#ff0a0a"/>
<circle cx="320.6" cy="227" r="2.1" fill="#ff0a0a"/>
<circle cx="291.6" cy="254" r="2.1" fill="#ff0a0a"/>
<circle cx="309" cy="255.6" r="2.1" fill="#ff0a0a"/>
<circle cx="293.6" cy="264" r="2.1" fill="#ff0a0a"/>
<circle cx="309" cy="267.6" r="2.1" fill="#ff0a0a"/>
<circle cx="276" cy="270" r="2.1" fill="#ff0a0a"/>
<circle cx="284" cy="271.6" r="2.1" fill="#ff0a0a"/>
<circle cx="295.4" cy="279.4" r="2.1" fill="#ff0a0a"/>
<circle cx="305" cy="279.4" r="2.1" fill="#ff0a0a"/>
<circle cx="284" cy="287" r="2.1" fill="#ff0a0a"/>
<circle cx="318.6" cy="262" r="2.1" fill="#ff0a0a"/>
<circle cx="330" cy="269.6" r="2.1" fill="#ff0a0a"/>
<circle cx="318.6" cy="277.4" r="2.1" fill="#ff0a0a"/>
<circle cx="353.6" cy="306.4" r="2.1" fill="#ff0a0a"/>
<circle cx="359.4" cy="314" r="2.1" fill="#ff0a0a"/>
<text x="359" y="333.6" font-size="14.280000000000001" font-family="Liberation Serif, serif" fill="#1a1a1a" stroke="#1a1a1a" stroke-width="0.15" textLength="7" lengthAdjust="spacingAndGlyphs" >x</text>
<text x="366.3" y="337.20000000000005" font-size="5.5" font-family="Liberation Serif, serif" fill="#555" stroke="#555" stroke-width="0.15" textLength="2.4" lengthAdjust="spacingAndGlyphs" >1</text>
<text x="454.4" y="197.4" font-size="12.5" font-family="Liberation Serif, serif" fill="#1a1a1a" stroke="#1a1a1a" stroke-width="0.15" textLength="62.6" lengthAdjust="spacingAndGlyphs" >Example 2</text>
<text x="404.6" y="212.8" font-size="14.280000000000001" font-family="Liberation Serif, serif" fill="#1a1a1a" stroke="#1a1a1a" stroke-width="0.15" textLength="7" lengthAdjust="spacingAndGlyphs" >x</text>
<text x="411.90000000000003" y="216.4" font-size="5.5" font-family="Liberation Serif, serif" fill="#555" stroke="#555" stroke-width="0.15" textLength="2.4" lengthAdjust="spacingAndGlyphs" >2</text>
<path d="M419.5,205.6 V322.2 H544.4" fill="none" stroke="#050505" stroke-width="2.2"/>
<text x="461" y="210.4" font-size="10" font-family="Liberation Serif, serif" fill="#222" stroke="#222" stroke-width="0.15" textLength="6" lengthAdjust="spacingAndGlyphs" >α</text>
<path d="M454,220.6 Q464,212 481,210.4" fill="none" stroke="#111" stroke-width="1"/>
<polygon points="482.6,210.2 480.2,209 480.4,211.6" fill="#111"/>
<circle cx="457.6" cy="226" r="1.6" fill="#ff0a0a"/>
<circle cx="455.6" cy="238.4" r="1.6" fill="#ff0a0a"/>
<circle cx="464.6" cy="237.4" r="1.6" fill="#ff0a0a"/>
<circle cx="460" cy="242" r="1.6" fill="#ff0a0a"/>
<circle cx="471" cy="243.6" r="1.6" fill="#ff0a0a"/>
<circle cx="479" cy="242" r="1.6" fill="#ff0a0a"/>
<circle cx="467" cy="247" r="1.6" fill="#ff0a0a"/>
<circle cx="484.4" cy="246.6" r="1.6" fill="#ff0a0a"/>
<circle cx="489.6" cy="247.6" r="1.6" fill="#ff0a0a"/>
<circle cx="467" cy="254.4" r="1.6" fill="#ff0a0a"/>
<circle cx="474.4" cy="252" r="1.6" fill="#ff0a0a"/>
<circle cx="478" cy="254" r="1.6" fill="#ff0a0a"/>
<circle cx="487.6" cy="253.6" r="1.6" fill="#ff0a0a"/>
<circle cx="495" cy="256" r="1.6" fill="#ff0a0a"/>
<circle cx="474.4" cy="258.4" r="1.6" fill="#ff0a0a"/>
<circle cx="482.6" cy="259.6" r="1.6" fill="#ff0a0a"/>
<circle cx="488" cy="259" r="1.6" fill="#ff0a0a"/>
<circle cx="507" cy="260" r="1.6" fill="#ff0a0a"/>
<circle cx="476.6" cy="263.6" r="1.6" fill="#ff0a0a"/>
<circle cx="481.4" cy="266.4" r="1.6" fill="#ff0a0a"/>
<circle cx="490" cy="265" r="1.6" fill="#ff0a0a"/>
<circle cx="488.6" cy="266.6" r="1.6" fill="#ff0a0a"/>
<circle cx="499" cy="264.4" r="1.6" fill="#ff0a0a"/>
<circle cx="503.6" cy="266.4" r="1.6" fill="#ff0a0a"/>
<circle cx="497" cy="269.4" r="1.6" fill="#ff0a0a"/>
<circle cx="485.4" cy="272" r="1.6" fill="#ff0a0a"/>
<circle cx="493" cy="272" r="1.6" fill="#ff0a0a"/>
<circle cx="502" cy="274" r="1.6" fill="#ff0a0a"/>
<circle cx="508.6" cy="273" r="1.6" fill="#ff0a0a"/>
<circle cx="506" cy="276" r="1.6" fill="#ff0a0a"/>
<circle cx="488.6" cy="277" r="1.6" fill="#ff0a0a"/>
<circle cx="497.6" cy="277" r="1.6" fill="#ff0a0a"/>
<circle cx="515" cy="278.4" r="1.6" fill="#ff0a0a"/>
<circle cx="504" cy="283" r="1.6" fill="#ff0a0a"/>
<circle cx="511.6" cy="283.4" r="1.6" fill="#ff0a0a"/>
<circle cx="518" cy="284.4" r="1.6" fill="#ff0a0a"/>
<circle cx="524" cy="283" r="1.6" fill="#ff0a0a"/>
<circle cx="516.4" cy="291" r="1.6" fill="#ff0a0a"/>
<circle cx="525" cy="294" r="1.6" fill="#ff0a0a"/>
<circle cx="486" cy="215.4" r="1.6" fill="#0a0aff"/>
<circle cx="482.6" cy="223" r="1.6" fill="#0a0aff"/>
<circle cx="494" cy="223" r="1.6" fill="#0a0aff"/>
<circle cx="486" cy="232.4" r="1.6" fill="#0a0aff"/>
<circle cx="492.4" cy="232.4" r="1.6" fill="#0a0aff"/>
<circle cx="481.6" cy="238.4" r="1.6" fill="#0a0aff"/>
<circle cx="488.6" cy="240.6" r="1.6" fill="#0a0aff"/>
<circle cx="492.4" cy="240.6" r="1.6" fill="#0a0aff"/>
<circle cx="487.4" cy="244.6" r="1.6" fill="#0a0aff"/>
<circle cx="482" cy="247" r="1.6" fill="#0a0aff"/>
<circle cx="495" cy="248.6" r="1.6" fill="#0a0aff"/>
<circle cx="502" cy="250" r="1.6" fill="#0a0aff"/>
<circle cx="483" cy="253" r="1.6" fill="#0a0aff"/>
<circle cx="493.4" cy="253" r="1.6" fill="#0a0aff"/>
<circle cx="476.4" cy="253" r="1.6" fill="#0a0aff"/>
<circle cx="478.6" cy="259.4" r="1.6" fill="#0a0aff"/>
<circle cx="486" cy="260" r="1.6" fill="#0a0aff"/>
<circle cx="498" cy="261.4" r="1.6" fill="#0a0aff"/>
<circle cx="480.6" cy="265.6" r="1.6" fill="#0a0aff"/>
<circle cx="478" cy="269.4" r="1.6" fill="#0a0aff"/>
<circle cx="487" cy="269" r="1.6" fill="#0a0aff"/>
<circle cx="493.6" cy="271" r="1.6" fill="#0a0aff"/>
<circle cx="501" cy="271" r="1.6" fill="#0a0aff"/>
<circle cx="483" cy="276" r="1.6" fill="#0a0aff"/>
<circle cx="488.6" cy="275.6" r="1.6" fill="#0a0aff"/>
<circle cx="498" cy="275" r="1.6" fill="#0a0aff"/>
<circle cx="475.6" cy="277.6" r="1.6" fill="#0a0aff"/>
<circle cx="488.6" cy="279" r="1.6" fill="#0a0aff"/>
<circle cx="499.4" cy="282" r="1.6" fill="#0a0aff"/>
<circle cx="481.6" cy="283.6" r="1.6" fill="#0a0aff"/>
<circle cx="487.6" cy="288.4" r="1.6" fill="#0a0aff"/>
<circle cx="493" cy="287.4" r="1.6" fill="#0a0aff"/>
<circle cx="487.4" cy="296" r="1.6" fill="#0a0aff"/>
<circle cx="494" cy="296" r="1.6" fill="#0a0aff"/>
<circle cx="478" cy="299" r="1.6" fill="#0a0aff"/>
<circle cx="487.4" cy="302.4" r="1.6" fill="#0a0aff"/>
<circle cx="498.6" cy="308.4" r="1.6" fill="#0a0aff"/>
<text x="535.4" y="333" font-size="14.280000000000001" font-family="Liberation Serif, serif" fill="#1a1a1a" stroke="#1a1a1a" stroke-width="0.15" textLength="7" lengthAdjust="spacingAndGlyphs" >x</text>
<text x="542.6999999999999" y="336.6" font-size="5.5" font-family="Liberation Serif, serif" fill="#555" stroke="#555" stroke-width="0.15" textLength="2.4" lengthAdjust="spacingAndGlyphs" >1</text>
</svg></body></html>
